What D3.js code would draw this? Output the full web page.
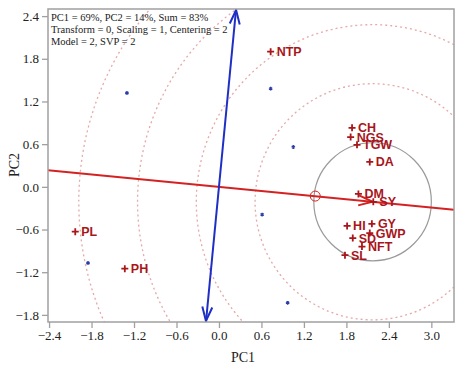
<!DOCTYPE html>
<html lang="en">
<head>
    <meta charset="UTF-8">
    <title>GGE biplot</title>
    <script src="https://unpkg.com/d3@7.8.5/dist/d3.min.js"></script>
    <style>
        * { margin: 0; padding: 0; box-sizing: border-box; }
        body { background: #fff; }
        svg { display: block; }
    </style>
</head>
<body>
    <svg class="cc" width="474" height="374"></svg>
    <script>
        // 性状 (traits)
        const traitNames = ['NTP', 'CH', 'NGS', 'TGW', 'DA', 'DM', 'SY', 'HI', 'GY', 'GWP', 'SD', 'NFT', 'SL', 'PL', 'PH']
        const traitX = [0.73, 1.88, 1.86, 1.95, 2.13, 1.97, 2.18, 1.81, 2.16, 2.13, 1.89, 2.02, 1.78, -2.03, -1.33]
        const traitY = [1.90, 0.83, 0.70, 0.59, 0.35, -0.10, -0.21, -0.55, -0.52, -0.65, -0.72, -0.84, -0.96, -0.63, -1.15]

        // 基因型 (blue stars)
        const genoX = [-1.30, 0.73, 1.05, 0.61, -1.85, 0.97]
        const genoY = [1.32, 1.38, 0.56, -0.39, -1.07, -1.63]

        // average environment / ideal point
        const atcEnd = [2.17, -0.21]
        const ringStep = 0.83
        const ringCount = 5
        const markerPt = [1.36, -0.13]

        const xTicks = [-2.4, -1.8, -1.2, -0.6, 0.0, 0.6, 1.2, 1.8, 2.4, 3.0]
        const yTicks = [-1.8, -1.2, -0.6, 0.0, 0.6, 1.2, 1.8, 2.4]

        const infoLines = [
            'PC1 = 69%, PC2 = 14%, Sum = 83%',
            'Transform = 0, Scaling = 1, Centering = 2',
            'Model = 2, SVP = 2'
        ]

        const pL = 48, pR = 454, pT = 9, pB = 322
        const x = d3.scaleLinear().domain([-2.415, 3.32]).range([pL, pR])
        const y = d3.scaleLinear().domain([-1.9, 2.5]).range([pB, pT])

        const svg = d3.select('svg')
        const serif = '"Liberation Serif", "DejaVu Serif", serif'
        const sans = '"Liberation Sans", Arial, sans-serif'
        const fmt = v => d3.format('.1f')(v).replace('-', '\u2212')

        svg.append('defs').append('clipPath').attr('id', 'plot')
            .append('rect')
            .attr('x', pL).attr('y', pT)
            .attr('width', pR - pL).attr('height', pB - pT)

        const plot = svg.append('g').attr('clip-path', 'url(#plot)')

        // 同心圆
        d3.range(1, ringCount + 1).forEach(k => {
            const r = ringStep * k
            plot.append('ellipse')
                .attr('cx', x(atcEnd[0]))
                .attr('cy', y(atcEnd[1]))
                .attr('rx', x(r) - x(0))
                .attr('ry', y(0) - y(r))
                .attr('fill', 'none')
                .attr('stroke', k === 1 ? '#9a9a9a' : '#e6a8a8')
                .attr('stroke-width', k === 1 ? 1.2 : 1.3)
                .attr('stroke-dasharray', k === 1 ? null : '2,3')
        })

        // ATC lines
        const m = atcEnd[1] / atcEnd[0]
        const [x0, x1] = x.domain()
        const [y0, y1] = y.domain()

        plot.append('line')
            .attr('x1', x(x0)).attr('y1', y(m * x0))
            .attr('x2', x(x1)).attr('y2', y(m * x1))
            .attr('stroke', '#d42222').attr('stroke-width', 2)

        plot.append('line')
            .attr('x1', x(-m * y0)).attr('y1', y(y0))
            .attr('x2', x(-m * y1)).attr('y2', y(y1))
            .attr('stroke', '#1f2fc4').attr('stroke-width', 2)

        // 箭头
        function arrowHead(g, px, py, angle, color) {
            const len = 14, half = 5
            const ca = Math.cos(angle), sa = Math.sin(angle)
            const bx = px - len * ca, by = py - len * sa
            g.append('path')
                .attr('d', `M${bx - half * sa},${by + half * ca}L${px},${py}L${bx + half * sa},${by - half * ca}`)
                .attr('fill', 'none')
                .attr('stroke', color)
                .attr('stroke-width', 2)
        }
        const tipX = x(atcEnd[0]), tipY = y(atcEnd[1])
        arrowHead(plot, tipX, tipY, Math.atan2(tipY - y(0), tipX - x(0)), '#d42222')

        const btX = x(-m * y1), btY = y(y1)
        const bbX = x(-m * y0), bbY = y(y0)
        arrowHead(plot, btX, btY + 1, Math.atan2(btY - bbY, btX - bbX), '#1f2fc4')
        arrowHead(plot, bbX, bbY - 1, Math.atan2(bbY - btY, bbX - btX), '#1f2fc4')

        plot.append('circle')
            .attr('cx', x(markerPt[0])).attr('cy', y(markerPt[1]))
            .attr('r', 5)
            .attr('fill', 'none')
            .attr('stroke', '#d42222').attr('stroke-width', 1)

        // 蓝色星点
        plot.selectAll('.geno')
            .data(genoX.map((v, i) => [v, genoY[i]]))
            .enter().append('path')
            .attr('class', 'geno')
            .attr('transform', d => `translate(${x(d[0])},${y(d[1])})`)
            .attr('d', d3.symbol(d3.symbolAsterisk, 10))
            .attr('fill', 'none')
            .attr('stroke', '#2a3aa8')
            .attr('stroke-width', 1.3)

        // 性状
        const traits = traitNames.map((n, i) => ({ name: n, x: traitX[i], y: traitY[i] }))
        const tg = plot.selectAll('.trait').data(traits).enter().append('g')
            .attr('class', 'trait')
            .attr('transform', d => `translate(${x(d.x)},${y(d.y)})`)
        tg.append('path')
            .attr('d', 'M-3.5,0H3.5M0,-3.5V3.5')
            .attr('stroke', '#a8161c')
            .attr('stroke-width', 1.8)
        tg.append('text')
            .attr('x', 6)
            .attr('y', 4.5)
            .attr('font-family', sans)
            .attr('font-weight', 'bold')
            .attr('font-size', 12.5)
            .attr('fill', '#a8161c')
            .text(d => d.name)

        // info text
        svg.append('g').selectAll('text').data(infoLines).enter().append('text')
            .attr('x', 51)
            .attr('y', (d, i) => 21 + i * 12)
            .attr('font-family', serif)
            .attr('font-size', 10.5)
            .attr('fill', '#222')
            .text(d => d)

        // frame
        svg.append('rect')
            .attr('x', pL).attr('y', pT)
            .attr('width', pR - pL).attr('height', pB - pT)
            .attr('fill', 'none')
            .attr('stroke', '#a0a0a0').attr('stroke-width', 1.5)

        // axes
        const xAxis = svg.append('g')
            .attr('transform', `translate(0,${pB})`)
            .call(d3.axisBottom(x).tickValues(xTicks).tickFormat(fmt).tickSize(6).tickPadding(3))
        const yAxis = svg.append('g')
            .attr('transform', `translate(${pL},0)`)
            .call(d3.axisLeft(y).tickValues(yTicks).tickFormat(fmt).tickSize(6).tickPadding(3))

        ;[xAxis, yAxis].forEach(a => {
            a.select('.domain').remove()
            a.selectAll('line').attr('stroke', '#a0a0a0').attr('stroke-width', 1.3)
            a.selectAll('text')
                .attr('font-family', serif)
                .attr('font-size', 13)
                .attr('fill', '#222')
        })

        svg.append('text')
            .attr('x', 243).attr('y', 362)
            .attr('text-anchor', 'middle')
            .attr('font-family', serif)
            .attr('font-size', 14)
            .attr('fill', '#222')
            .text('PC1')

        svg.append('text')
            .attr('transform', 'translate(19,165) rotate(-90)')
            .attr('text-anchor', 'middle')
            .attr('font-family', serif)
            .attr('font-size', 14)
            .attr('fill', '#222')
            .text('PC2')
    </script>
</body>
</html>
